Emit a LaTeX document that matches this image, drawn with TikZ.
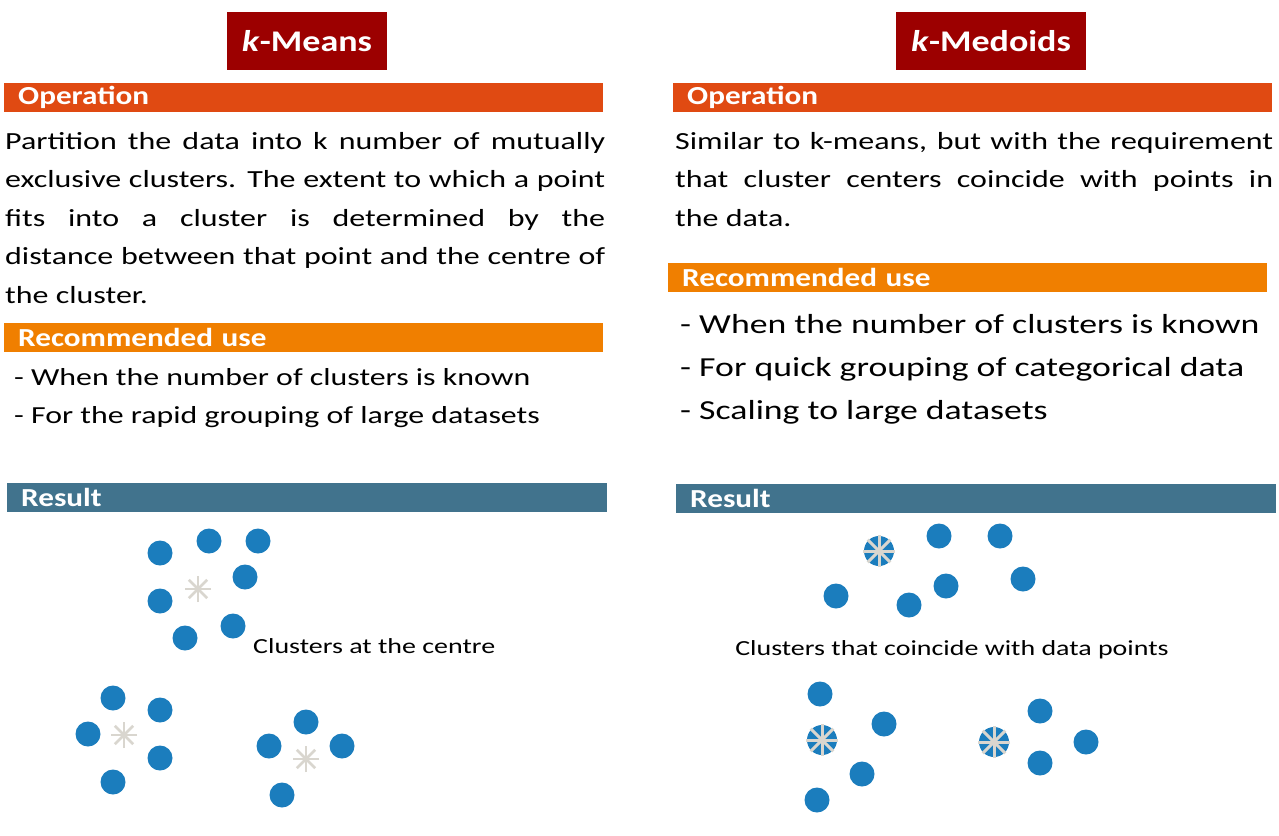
\documentclass[tikz,border=0pt]{standalone}
\usepackage{fontspec}
\setmainfont{Carlito}
\newfontfamily\widefont[FakeStretch=1.3]{Carlito}
\newfontfamily\widebold[FakeStretch=1.2]{Carlito Bold}
\definecolor{titlered}{HTML}{9C0000}
\definecolor{opred}{HTML}{E04A12}
\definecolor{recorange}{HTML}{F07F00}
\definecolor{resblue}{HTML}{41738D}
\definecolor{dotblue}{HTML}{1B7DBD}
\definecolor{stargray}{HTML}{D9D6CF}
\tikzset{
  title/.style={fill=titlered,text=white,font=\fontsize{30}{36}\widebold,minimum width=160pt,minimum height=58pt,inner sep=0pt},
  bar/.style={anchor=north west,text=white,font=\fontsize{26}{30}\widebold,minimum height=29pt,inner sep=0pt,text width=#1,align=left},
  dot/.style={circle,fill=dotblue,minimum size=25pt,inner sep=0pt},
  lbl/.style={font=\fontsize{21.5}{26}\widefont,inner sep=0pt},
  para/.style={anchor=north west,text width=#1,inner sep=0pt,align=justify,font=\fontsize{24.6}{38.5}\widefont},
}
\newcommand{\centrestar}[2]{% thin asterisk
  \foreach \a in {0,45,...,135}
    \draw[stargray,line width=2.6pt] ($(#1,#2)+(\a:13)$) -- ($(#1,#2)+(\a+180:13)$);}
\newcommand{\medoidstar}[2]{% data point that is a centre
  \fill[dotblue] (#1,#2) circle (15);
  \foreach \a in {0,45,...,135}
    \draw[stargray,line width=3pt] ($(#1,#2)+(\a:16)$) -- ($(#1,#2)+(\a+180:16)$);}
\usetikzlibrary{calc}
\begin{document}
\begin{tikzpicture}[x=1pt,y=-1pt]
\useasboundingbox (0,0) rectangle (1279,835);

% titles
\node[title] (tl) at (307,41) {\textit{k}-Means};
\node[title,minimum width=190pt] (tr) at (991,41) {\textit{k}-Medoids};

% left column
\node[bar=599pt,fill=opred] (opl) at (4,83) {\hspace{14pt}Operation};
\node[para=600pt] (txl) at (5,132)
  {Partition the data into k number of mutually\linebreak exclusive clusters. The extent to which a point\linebreak fits into a cluster is determined by the\linebreak distance between that point and the centre of\linebreak the cluster.};
\node[bar=599pt,fill=recorange] (recl) at (4,323) {\hspace{14pt}Recommended use};
\node[anchor=north west,inner sep=0pt,align=left,font=\fontsize{24.5}{38}\widefont] (usel) at (14,368)
  {- When the number of clusters is known\\- For the rapid grouping of large datasets};
\node[bar=600pt,fill=resblue] (resl) at (7,483) {\hspace{14pt}Result};

% right column
\node[bar=599pt,fill=opred] (opr) at (673,83) {\hspace{14pt}Operation};
\node[para=598pt] (txr) at (675,132)
  {Similar to k-means, but with the requirement\linebreak that cluster centers coincide with points in\linebreak the data.};
\node[bar=599pt,fill=recorange] (recr) at (668,263) {\hspace{14pt}Recommended use};
\node[anchor=north west,inner sep=0pt,align=left,font=\fontsize{27.5}{43}\widefont] (user) at (680,314)
  {- When the number of clusters is known\\- For quick grouping of categorical data\\- Scaling to large datasets};
\node[bar=600pt,fill=resblue] (resr) at (676,484) {\hspace{14pt}Result};

% k-means result
\foreach \x/\y [count=\i] in {160/553,209/541,258/541,245/577,160/601,233/626,185/638,
  113/698,160/710,88/734,160/758,113/782,306/722,269/746,342/746,282/795}
  \node[dot] (m\i) at (\x,\y) {};
\centrestar{198}{589}
\centrestar{124}{735}
\centrestar{306}{759}
\node[lbl,anchor=west] (cl) at (253,646) {Clusters at the centre};

% k-medoids result
\foreach \x/\y [count=\i] in {939/536,1000/536,1023/579,946/586,909/605,836/596,
  820/694,884/724,862/774,817/800,1040/711,1086/742,1040/763}
  \node[dot] (n\i) at (\x,\y) {};
\medoidstar{879}{551}
\medoidstar{822}{740}
\medoidstar{994}{742}
\node[lbl] (cr) at (952,650) {Clusters that coincide with data points};
\end{tikzpicture}
\end{document}
